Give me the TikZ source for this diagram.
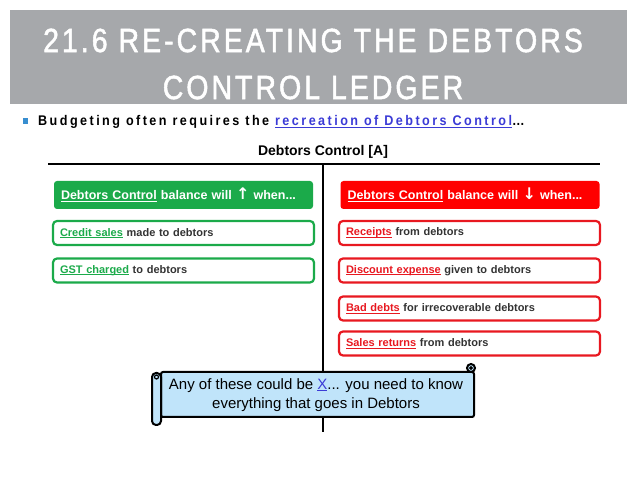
\documentclass[tikz,border=0pt]{standalone}
\usepackage{fontspec}
\setmainfont{Liberation Sans}
\newfontfamily\titlefont[FakeStretch=0.85,LetterSpace=9,FakeBold=1.5]{Liberation Sans}
\newfontfamily\spacedfont[FakeStretch=0.9,LetterSpace=17.5]{Liberation Sans}
\newfontfamily\arrowfont{DejaVu Sans}
\usetikzlibrary{positioning}
\definecolor{bandgrey}{RGB}{166,168,171}
\definecolor{upgreen}{RGB}{27,170,74}
\definecolor{downred}{RGB}{232,24,32}
\definecolor{headred}{RGB}{255,0,0}
\definecolor{linkblue}{RGB}{59,59,214}
\definecolor{bulletblue}{RGB}{56,142,208}
\definecolor{scrollblue}{RGB}{192,228,250}
\definecolor{itemtext}{RGB}{51,51,51}
\newcommand{\lnk}[2]{{\color{#1}\setbox0\hbox{#2}\rlap{\rule[-1.8pt]{\wd0}{0.8pt}}\box0}}
\newcommand{\arr}[1]{{\arrowfont\bfseries\fontsize{16}{15}\selectfont #1}}
\tikzset{
	headbox/.style={rounded corners=3pt, minimum height=28pt, inner xsep=7pt, align=left, text=white, font=\bfseries\fontsize{12.5}{15}\selectfont},
	itembox/.style={draw=#1, line width=2.2pt, rounded corners=4pt, fill=white, minimum width=261pt, minimum height=24pt, text width=247pt, inner xsep=7pt, align=left, text=itemtext, font=\bfseries\fontsize{11}{13}\selectfont},
}

\begin{document}
\begin{tikzpicture}[x=1pt, y=-1pt]
		\useasboundingbox (0,0) rectangle (638,478);

		% title band
		\fill[bandgrey] (10,10) rectangle (627,104);
		\node[align=center, text=white, font=\titlefont\fontsize{33.5}{47}\selectfont] (title) at (313,64) {21.6 RE-CREATING THE DEBTORS\\CONTROL LEDGER};

		\fill[bulletblue] (23,118) rectangle (28,124);
		\node[anchor=west, inner sep=0pt, font=\spacedfont\bfseries\fontsize{14}{16}\selectfont] (intro) at (38,122) {Budgeting often requires the \lnk{linkblue}{recreation of Debtors Control}…};

		% T account
		\node[font=\bfseries\fontsize{14}{16}\selectfont] (ledger) at (323,152) {Debtors Control [A]};
		\coordinate (tleft) at (48,164);
		\coordinate (tright) at (600,164);
		\coordinate (ttop) at (323,164);
		\coordinate (tfoot) at (323,432);
		\draw[line width=2.4pt] (tleft) -- (tright);
		\draw[line width=2.4pt] (ttop) -- (tfoot);

		% increases
		\node[headbox, fill=upgreen, minimum width=259pt, text width=245pt] (upHead) at (183.5,195) {\lnk{white}{Debtors Control} balance will \arr{↑} when...};
		\node[itembox=upgreen] (upCredit) at (183.5,233) {\lnk{upgreen}{Credit sales} made to debtors};
		\node[itembox=upgreen] (upGst) at (183.5,270.5) {\lnk{upgreen}{GST charged} to debtors};

		% decreases
		\node[headbox, fill=headred, minimum width=259pt, text width=245pt] (downHead) at (470,195) {\lnk{white}{Debtors Control} balance will \arr{↓} when...};
		\node[itembox=downred] (downReceipts) at (469.5,233) {\lnk{downred}{Receipts} from debtors};
		\node[itembox=downred] (downDiscount) at (469.5,270.5) {\lnk{downred}{Discount expense} given to debtors};
		\node[itembox=downred] (downBad) at (469.5,308.5) {\lnk{downred}{Bad debts} for irrecoverable debtors};
		\node[itembox=downred] (downReturns) at (469.5,343.5) {\lnk{downred}{Sales returns} from debtors};

		% scroll
		\filldraw[fill=scrollblue, line width=2pt, rounded corners=2pt] (161,372) rectangle (474,417);
		\filldraw[fill=scrollblue, line width=2pt, rounded corners=4pt] (152,373) rectangle (161,425);
		\draw[line width=1.2pt] (156.5,377) circle (2pt);
		\filldraw[fill=scrollblue, line width=2pt] (471,368) circle (4pt);
		\draw[line width=1.2pt] (471,368) circle (1.3pt);
		\node[align=center, font=\fontsize{15}{19}\selectfont] (note) at (316,395) {Any of these could be \lnk{linkblue}{X}... you need to know\\everything that goes in Debtors};
	\end{tikzpicture}
\end{document}
